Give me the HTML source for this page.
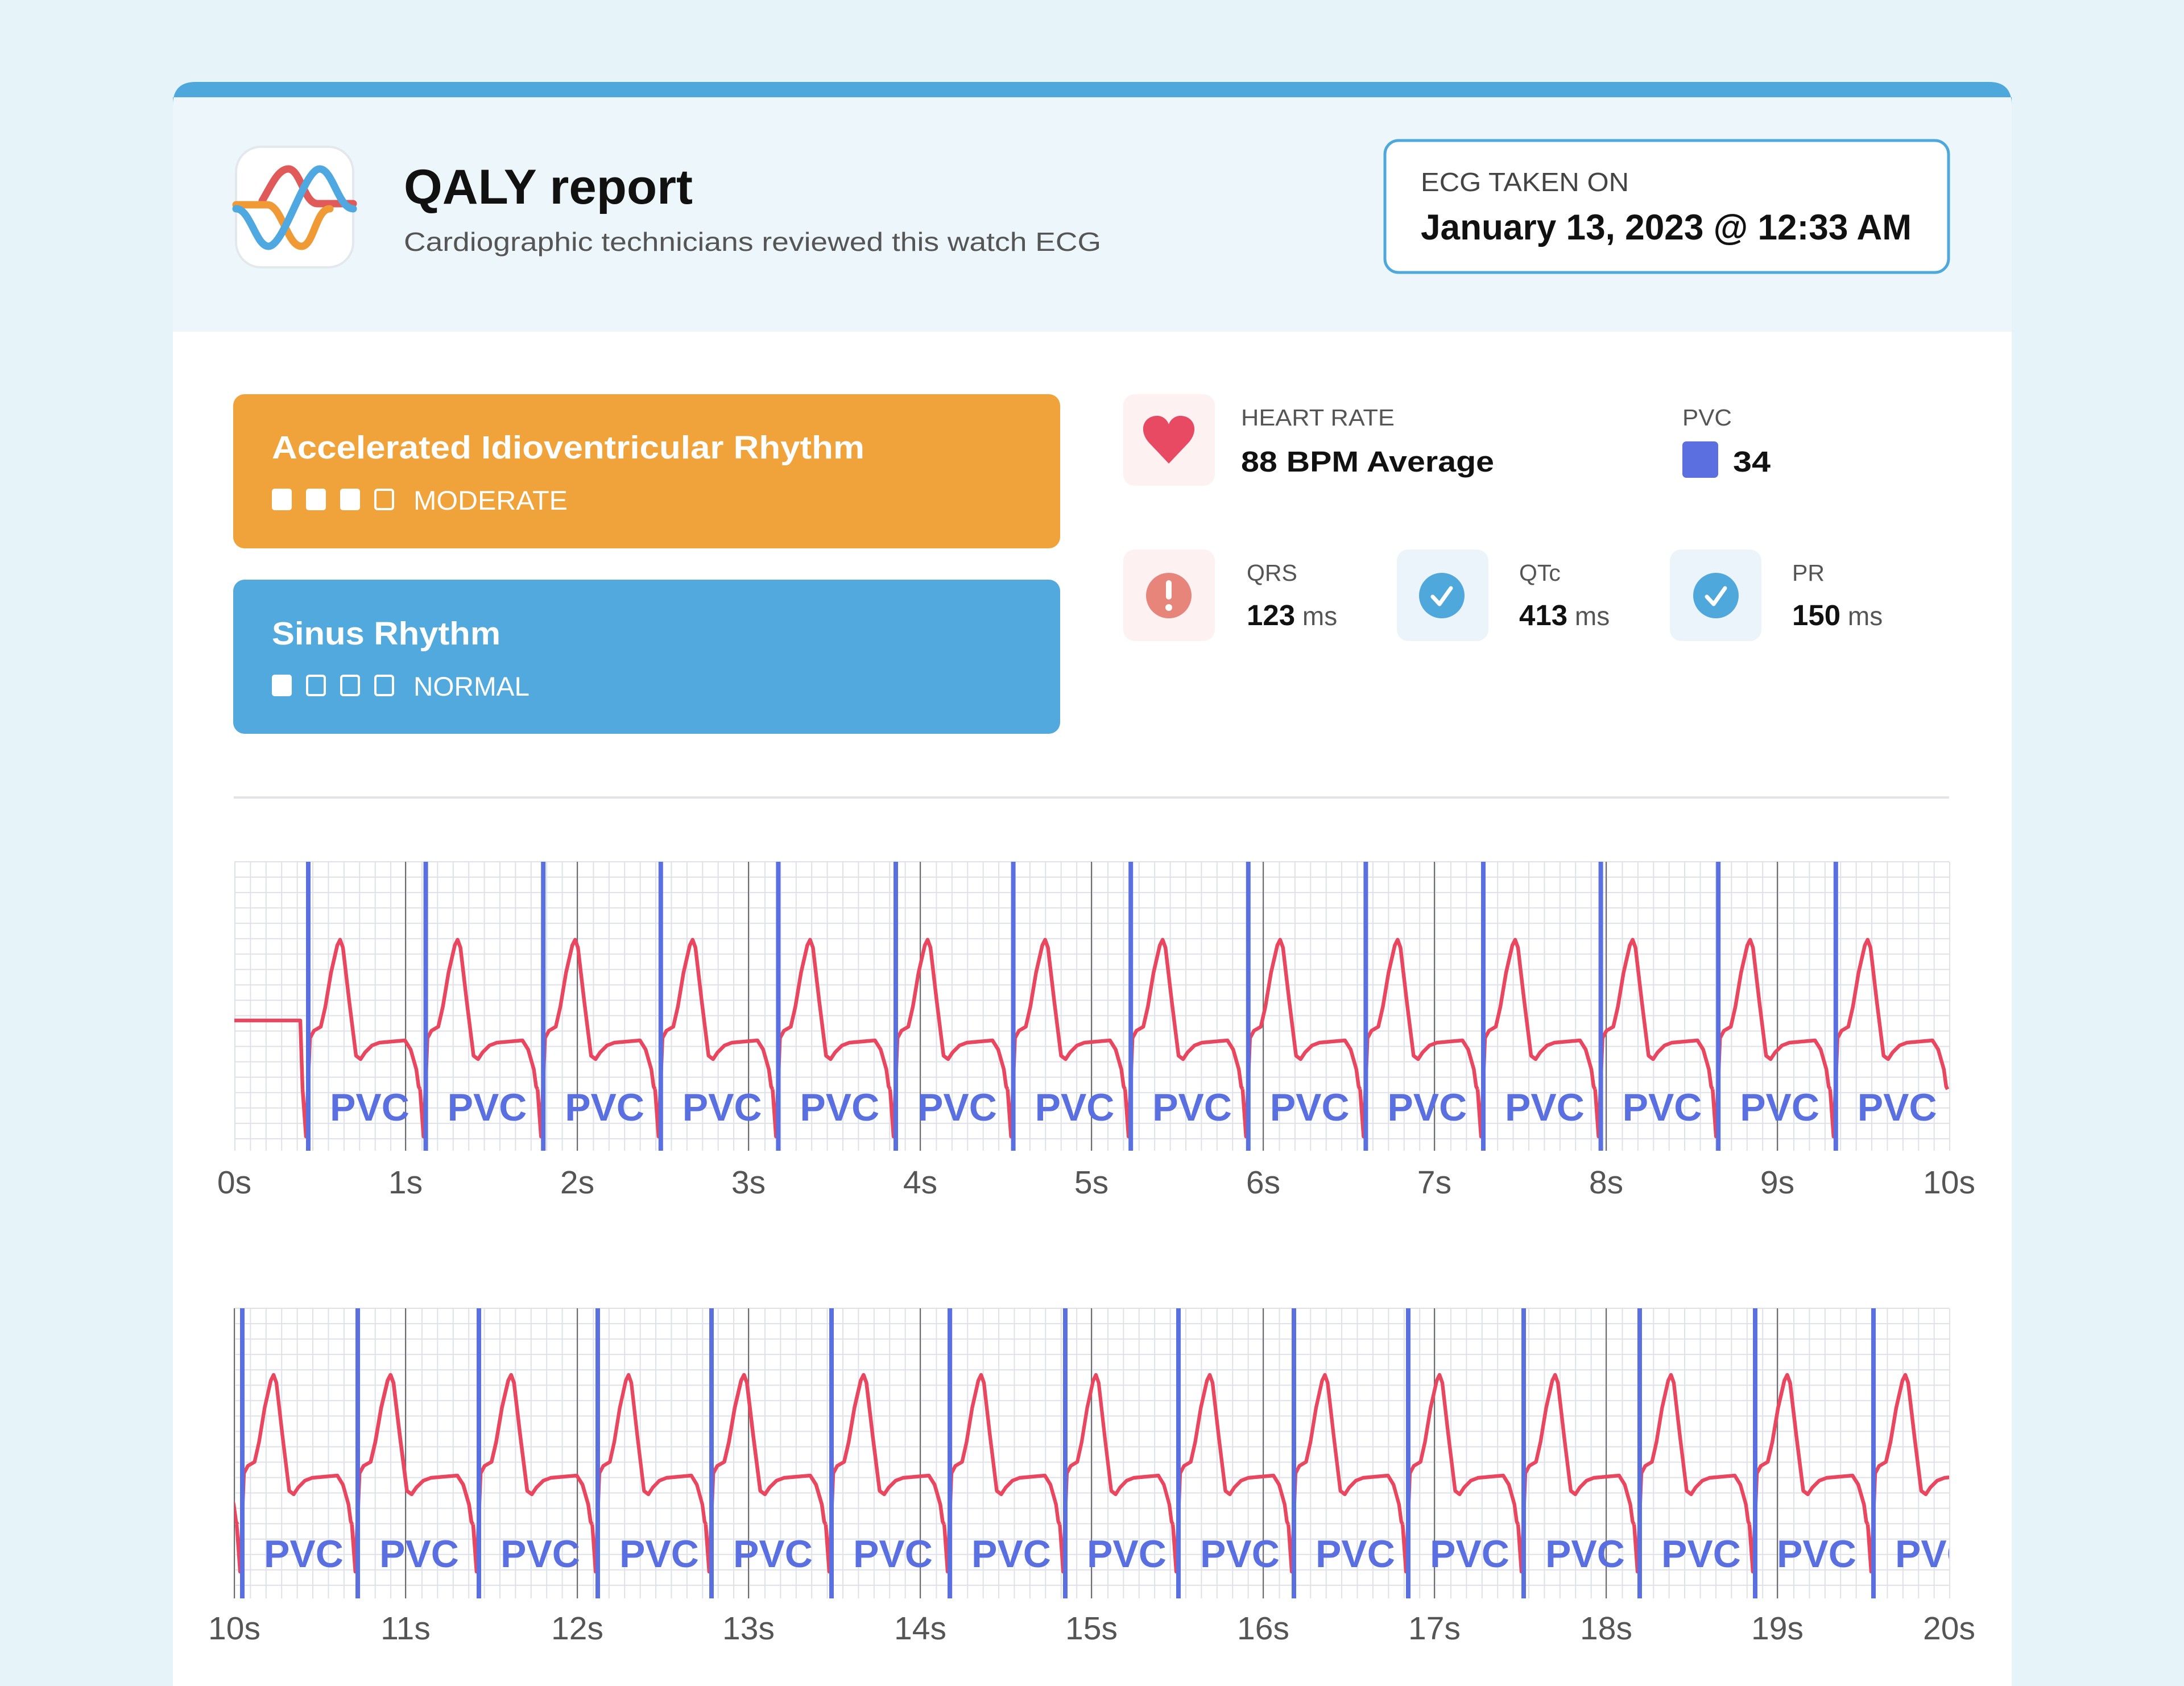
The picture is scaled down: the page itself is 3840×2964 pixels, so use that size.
<!DOCTYPE html>
<html><head><meta charset="utf-8"><style>
html,body{margin:0;padding:0;background:#e6f4fa;}
svg{display:block;}
</style></head><body>
<svg width="3840" height="2964" viewBox="0 0 3840 2964" xmlns="http://www.w3.org/2000/svg" font-family="Liberation Sans, sans-serif">
<defs>
  <clipPath id="c1"><rect x="412" y="1400" width="3015" height="700"/></clipPath>
  <clipPath id="c2"><rect x="412" y="2200" width="3015" height="700"/></clipPath>
  <pattern id="gv" patternUnits="userSpaceOnUse" x="412" y="0" width="27.41" height="3000">
    <rect x="0" y="0" width="2" height="3000" fill="#dfe1e8"/>
  </pattern>
  <pattern id="gh" patternUnits="userSpaceOnUse" x="0" y="1514" width="3000" height="27.05">
    <rect x="0" y="0" width="3000" height="2" fill="#dfe1e8"/>
  </pattern>
  <path id="beat" fill="none" stroke="#e8475f" stroke-width="6.5" stroke-linejoin="round" d="M -10 1915 L -4 1998 L 3 1825 L 10 1812 L 22 1805 L 30 1770 L 40 1710 L 51 1662 L 56 1652 L 61 1666 L 72 1760 L 84 1856 L 92 1862 L 100 1850 L 112 1838 L 125 1833 L 170 1829 L 180 1845 L 190 1880 L 194 1910 L 196.6 1915"/>
</defs>

<path d="M304 184 Q304 144 344 144 L3497 144 Q3537 144 3537 184 L3537 2964 L304 2964 Z" fill="#ffffff"/>
<path d="M304 184 Q304 144 344 144 L3497 144 Q3537 144 3537 184 L3537 583 L304 583 Z" fill="#ecf6fb"/>
<path d="M304 184 Q304 144 344 144 L3497 144 Q3537 144 3537 184 L3537 171 L304 171 Z" fill="#4ea8dc"/>

<rect x="415" y="258" width="206" height="212" rx="44" fill="#ffffff" stroke="#e3e8ec" stroke-width="4"/>
<path d="M461 353 C475 330 488 297 507 297 C528 297 535 358 558 358 L621 358" fill="none" stroke="#e05a5a" stroke-width="13" stroke-linecap="round"/>
<path d="M415 360 L470 360 C495 360 505 433 530 433 C552 433 555 367 580 367" fill="none" stroke="#ef9a34" stroke-width="13" stroke-linecap="round"/>
<path d="M415 367 C440 367 450 433 472 433 C500 433 535 297 562 297 C585 297 595 367 621 367" fill="none" stroke="#4fa8e0" stroke-width="13" stroke-linecap="round"/>

<text x="710" y="358" font-size="86" font-weight="bold" fill="#111" textLength="508" lengthAdjust="spacingAndGlyphs">QALY report</text>
<text x="710" y="441" font-size="46" fill="#555" textLength="1226" lengthAdjust="spacingAndGlyphs">Cardiographic technicians reviewed this watch ECG</text>

<rect x="2435" y="247" width="991" height="232" rx="24" fill="#ffffff" stroke="#4ea8dc" stroke-width="5"/>
<text x="2498" y="336" font-size="46" fill="#444" textLength="366" lengthAdjust="spacingAndGlyphs">ECG TAKEN ON</text>
<text x="2498" y="421" font-size="63" font-weight="bold" fill="#111" textLength="863" lengthAdjust="spacingAndGlyphs">January 13, 2023 @ 12:33 AM</text>

<rect x="410" y="693" width="1454" height="271" rx="20" fill="#f0a33b"/>
<text x="478" y="806" font-size="57" font-weight="bold" fill="#fff" textLength="1042" lengthAdjust="spacingAndGlyphs">Accelerated Idioventricular Rhythm</text>
<rect x="478" y="859" width="35" height="38" rx="5" fill="#fff"/>
<rect x="538" y="859" width="35" height="38" rx="5" fill="#fff"/>
<rect x="598" y="859" width="35" height="38" rx="5" fill="#fff"/>
<rect x="660" y="861" width="31" height="34" rx="4" fill="none" stroke="#fff" stroke-width="4"/>
<text x="727" y="896" font-size="47" fill="#fff" textLength="271" lengthAdjust="spacingAndGlyphs">MODERATE</text>

<rect x="410" y="1019" width="1454" height="271" rx="20" fill="#52a9dd"/>
<text x="478" y="1133" font-size="57" font-weight="bold" fill="#fff" textLength="402" lengthAdjust="spacingAndGlyphs">Sinus Rhythm</text>
<rect x="478" y="1186" width="35" height="38" rx="5" fill="#fff"/>
<rect x="540" y="1188" width="31" height="34" rx="4" fill="none" stroke="#fff" stroke-width="4"/>
<rect x="600" y="1188" width="31" height="34" rx="4" fill="none" stroke="#fff" stroke-width="4"/>
<rect x="660" y="1188" width="31" height="34" rx="4" fill="none" stroke="#fff" stroke-width="4"/>
<text x="727" y="1223" font-size="47" fill="#fff" textLength="204" lengthAdjust="spacingAndGlyphs">NORMAL</text>

<rect x="1975" y="693" width="161" height="161" rx="20" fill="#fdf1f1"/>
<path d="M2055 815 L2020 778 C2000 755 2012 730 2036 731 C2047 732 2053 740 2055 746 C2057 740 2063 732 2074 731 C2098 730 2110 755 2090 778 Z" fill="#e84a64"/>
<text x="2182" y="748" font-size="41" fill="#555" textLength="270" lengthAdjust="spacingAndGlyphs">HEART RATE</text>
<text x="2182" y="829" font-size="51" font-weight="bold" fill="#111" textLength="445" lengthAdjust="spacingAndGlyphs">88 BPM Average</text>
<text x="2958" y="748" font-size="41" fill="#555" textLength="87" lengthAdjust="spacingAndGlyphs">PVC</text>
<rect x="2958" y="776" width="63" height="64" rx="7" fill="#5b6fe0"/>
<text x="3047" y="829" font-size="51" font-weight="bold" fill="#111" textLength="66" lengthAdjust="spacingAndGlyphs">34</text>

<rect x="1975" y="966" width="161" height="161" rx="20" fill="#fdf1f1"/>
<circle cx="2055" cy="1047" r="40" fill="#e8857a"/>
<rect x="2050" y="1020" width="10" height="34" rx="5" fill="#fff"/>
<circle cx="2055" cy="1068" r="6" fill="#fff"/>
<text x="2192" y="1021" font-size="41" fill="#555">QRS</text>
<text x="2192" y="1099" font-size="51" fill="#111"><tspan font-weight="bold">123</tspan><tspan fill="#555" font-size="46"> ms</tspan></text>

<rect x="2456" y="966" width="161" height="161" rx="20" fill="#eaf4fa"/>
<circle cx="2535" cy="1047" r="40" fill="#4fa8dc"/>
<polyline points="2519,1049 2531,1062 2551,1034" fill="none" stroke="#fff" stroke-width="7" stroke-linecap="round" stroke-linejoin="round"/>
<text x="2671" y="1021" font-size="41" fill="#555">QTc</text>
<text x="2671" y="1099" font-size="51" fill="#111"><tspan font-weight="bold">413</tspan><tspan fill="#555" font-size="46"> ms</tspan></text>

<rect x="2936" y="966" width="161" height="161" rx="20" fill="#eaf4fa"/>
<circle cx="3017" cy="1047" r="40" fill="#4fa8dc"/>
<polyline points="3001,1049 3013,1062 3033,1034" fill="none" stroke="#fff" stroke-width="7" stroke-linecap="round" stroke-linejoin="round"/>
<text x="3151" y="1021" font-size="41" fill="#555">PR</text>
<text x="3151" y="1099" font-size="51" fill="#111"><tspan font-weight="bold">150</tspan><tspan fill="#555" font-size="46"> ms</tspan></text>

<rect x="411" y="1400" width="3016" height="4" fill="#e2e3e6"/>

<rect x="411" y="1515" width="3018" height="508" fill="url(#gv)"/>
<rect x="412" y="1514" width="3015" height="490" fill="url(#gh)"/>
<g fill="#6b6b6b">
<rect x="712" y="1515" width="2" height="508"/><rect x="1014" y="1515" width="2" height="508"/><rect x="1315" y="1515" width="2" height="508"/><rect x="1617" y="1515" width="2" height="508"/><rect x="1918" y="1515" width="2" height="508"/><rect x="2220" y="1515" width="2" height="508"/><rect x="2521" y="1515" width="2" height="508"/><rect x="2823" y="1515" width="2" height="508"/><rect x="3124" y="1515" width="2" height="508"/>
</g>
<g clip-path="url(#c1)">
<path d="M412 1794 L528 1794 L532 1915" fill="none" stroke="#e8475f" stroke-width="6.5" stroke-linejoin="round"/>
<use href="#beat" transform="translate(542,0)"/>
<use href="#beat" transform="translate(748.6,0)"/>
<use href="#beat" transform="translate(955.2,0)"/>
<use href="#beat" transform="translate(1161.8,0)"/>
<use href="#beat" transform="translate(1368.4,0)"/>
<use href="#beat" transform="translate(1575,0)"/>
<use href="#beat" transform="translate(1781.6,0)"/>
<use href="#beat" transform="translate(1988.2,0)"/>
<use href="#beat" transform="translate(2194.8,0)"/>
<use href="#beat" transform="translate(2401.4,0)"/>
<use href="#beat" transform="translate(2608,0)"/>
<use href="#beat" transform="translate(2814.6,0)"/>
<use href="#beat" transform="translate(3021.2,0)"/>
<use href="#beat" transform="translate(3227.8,0)"/>
</g>
<g fill="#5a6fe0">
<rect x="538" y="1515" width="8" height="508"/><rect x="744.6" y="1515" width="8" height="508"/><rect x="951.2" y="1515" width="8" height="508"/><rect x="1157.8" y="1515" width="8" height="508"/><rect x="1364.4" y="1515" width="8" height="508"/><rect x="1571" y="1515" width="8" height="508"/><rect x="1777.6" y="1515" width="8" height="508"/><rect x="1984.2" y="1515" width="8" height="508"/><rect x="2190.8" y="1515" width="8" height="508"/><rect x="2397.4" y="1515" width="8" height="508"/><rect x="2604" y="1515" width="8" height="508"/><rect x="2810.6" y="1515" width="8" height="508"/><rect x="3017.2" y="1515" width="8" height="508"/><rect x="3223.8" y="1515" width="8" height="508"/>
</g>
<g font-size="68" font-weight="bold" fill="#5a6fe0" clip-path="url(#c1)">
<text x="580" y="1970">PVC</text><text x="786.6" y="1970">PVC</text><text x="993.2" y="1970">PVC</text><text x="1199.8" y="1970">PVC</text><text x="1406.4" y="1970">PVC</text><text x="1613" y="1970">PVC</text><text x="1819.6" y="1970">PVC</text><text x="2026.2" y="1970">PVC</text><text x="2232.8" y="1970">PVC</text><text x="2439.4" y="1970">PVC</text><text x="2646" y="1970">PVC</text><text x="2852.6" y="1970">PVC</text><text x="3059.2" y="1970">PVC</text><text x="3265.8" y="1970">PVC</text>
</g>
<g font-size="57" fill="#555" text-anchor="middle">
<text x="412" y="2098">0s</text><text x="713" y="2098">1s</text><text x="1015" y="2098">2s</text><text x="1316" y="2098">3s</text><text x="1618" y="2098">4s</text><text x="1919" y="2098">5s</text><text x="2221" y="2098">6s</text><text x="2522" y="2098">7s</text><text x="2824" y="2098">8s</text><text x="3125" y="2098">9s</text><text x="3427" y="2098">10s</text>
</g>

<rect x="411" y="2300" width="3018" height="510" fill="url(#gv)"/>
<g transform="translate(0,785)"><rect x="412" y="1514" width="3015" height="490" fill="url(#gh)"/></g>
<g fill="#6b6b6b">
<rect x="411" y="2300" width="2" height="510"/>
<rect x="712" y="2300" width="2" height="510"/><rect x="1014" y="2300" width="2" height="510"/><rect x="1315" y="2300" width="2" height="510"/><rect x="1617" y="2300" width="2" height="510"/><rect x="1918" y="2300" width="2" height="510"/><rect x="2220" y="2300" width="2" height="510"/><rect x="2521" y="2300" width="2" height="510"/><rect x="2823" y="2300" width="2" height="510"/><rect x="3124" y="2300" width="2" height="510"/>
</g>
<g clip-path="url(#c2)">
<use href="#beat" transform="translate(221,765)"/>
<use href="#beat" transform="translate(426,765) scale(0.983,1)"/>
<use href="#beat" transform="translate(629,765) scale(1.03,1)"/>
<use href="#beat" transform="translate(842,765) scale(1.012,1)"/>
<use href="#beat" transform="translate(1051,765) scale(0.968,1)"/>
<use href="#beat" transform="translate(1251,765) scale(1.021,1)"/>
<use href="#beat" transform="translate(1462,765) scale(1.007,1)"/>
<use href="#beat" transform="translate(1670,765) scale(0.983,1)"/>
<use href="#beat" transform="translate(1873,765) scale(0.963,1)"/>
<use href="#beat" transform="translate(2072,765) scale(0.983,1)"/>
<use href="#beat" transform="translate(2275,765) scale(0.973,1)"/>
<use href="#beat" transform="translate(2476,765) scale(0.983,1)"/>
<use href="#beat" transform="translate(2679,765) scale(0.987,1)"/>
<use href="#beat" transform="translate(2883,765) scale(0.983,1)"/>
<use href="#beat" transform="translate(3086,765) scale(1.007,1)"/>
<use href="#beat" transform="translate(3294,765)"/>
</g>
<g fill="#5a6fe0">
<rect x="422" y="2300" width="8" height="510"/><rect x="625" y="2300" width="8" height="510"/><rect x="838" y="2300" width="8" height="510"/><rect x="1047" y="2300" width="8" height="510"/><rect x="1247" y="2300" width="8" height="510"/><rect x="1458" y="2300" width="8" height="510"/><rect x="1666" y="2300" width="8" height="510"/><rect x="1869" y="2300" width="8" height="510"/><rect x="2068" y="2300" width="8" height="510"/><rect x="2271" y="2300" width="8" height="510"/><rect x="2472" y="2300" width="8" height="510"/><rect x="2675" y="2300" width="8" height="510"/><rect x="2879" y="2300" width="8" height="510"/><rect x="3082" y="2300" width="8" height="510"/><rect x="3290" y="2300" width="8" height="510"/>
</g>
<g font-size="68" font-weight="bold" fill="#5a6fe0" clip-path="url(#c2)">
<text x="464" y="2755">PVC</text><text x="667" y="2755">PVC</text><text x="880" y="2755">PVC</text><text x="1089" y="2755">PVC</text><text x="1289" y="2755">PVC</text><text x="1500" y="2755">PVC</text><text x="1708" y="2755">PVC</text><text x="1911" y="2755">PVC</text><text x="2110" y="2755">PVC</text><text x="2313" y="2755">PVC</text><text x="2514" y="2755">PVC</text><text x="2717" y="2755">PVC</text><text x="2921" y="2755">PVC</text><text x="3124" y="2755">PVC</text><text x="3332" y="2755">PVC</text>
</g>
<g font-size="57" fill="#555" text-anchor="middle">
<text x="412" y="2882">10s</text><text x="713" y="2882">11s</text><text x="1015" y="2882">12s</text><text x="1316" y="2882">13s</text><text x="1618" y="2882">14s</text><text x="1919" y="2882">15s</text><text x="2221" y="2882">16s</text><text x="2522" y="2882">17s</text><text x="2824" y="2882">18s</text><text x="3125" y="2882">19s</text><text x="3427" y="2882">20s</text>
</g>
</svg>
</body></html>
